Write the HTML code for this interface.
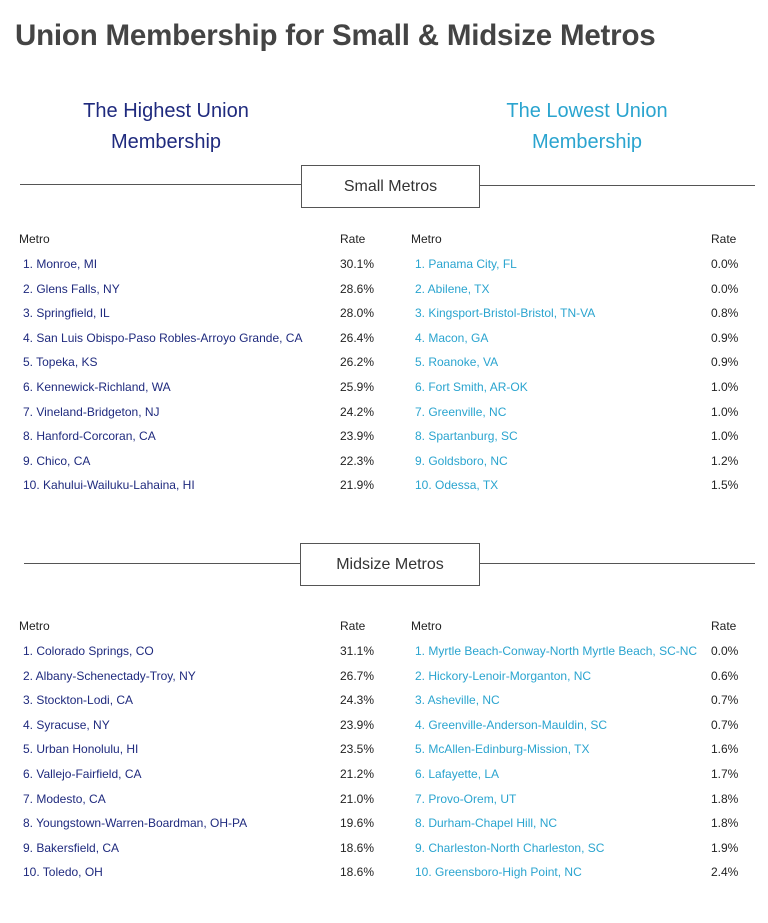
<!DOCTYPE html>
<html><head><meta charset="utf-8"><style>
body{margin:0;width:768px;height:923px;background:#fff;font-family:"Liberation Sans",Arial,sans-serif;position:relative;overflow:hidden}
.a{position:absolute;white-space:nowrap;line-height:16px;transform:translateY(-8px)}
h1{position:absolute;left:15px;top:19px;margin:0;font-size:29.5px;color:#444;font-weight:bold;letter-spacing:-0.2px}
.hd{position:absolute;font-size:20px;line-height:31px;text-align:center;width:300px;top:96px}
.ln{position:absolute;height:1px;background:#555}
.box{position:absolute;border:1px solid #555;box-sizing:border-box;text-align:center;font-size:16px;color:#333;background:#fff}
.h{font-size:12px;color:#222}
.n{font-size:12px;color:#1f2a7e}
.t{font-size:12px;color:#2aa4cf}
.r{font-size:12px;color:#222}
</style></head><body>
<h1>Union Membership for Small &amp; Midsize Metros</h1>
<div class="hd" style="left:16px;color:#1f2a7e">The Highest Union<br>Membership</div>
<div class="hd" style="left:437px;color:#2aa4cf">The Lowest Union<br>Membership</div>
<div class="ln" style="left:20px;width:282px;top:184px"></div>
<div class="ln" style="left:478px;width:277px;top:185px"></div>
<div class="box" style="left:301px;top:165px;width:179px;height:43px;line-height:41px">Small Metros</div>
<div class="ln" style="left:24px;width:278px;top:563px"></div>
<div class="ln" style="left:478px;width:277px;top:563px"></div>
<div class="box" style="left:300px;top:543px;width:180px;height:43px;line-height:41px">Midsize Metros</div>
<div id="c"></div>
<script>
function T(y0,L,R){var h='',s=24.6;
h+='<div class="a h" style="left:19px;top:'+y0+'px">Metro</div><div class="a h" style="left:340px;top:'+y0+'px">Rate</div>';
h+='<div class="a h" style="left:411px;top:'+y0+'px">Metro</div><div class="a h" style="left:711px;top:'+y0+'px">Rate</div>';
for(var i=0;i<10;i++){var y=y0+25+i*s;
h+='<div class="a n" style="left:23px;top:'+y+'px">'+(i+1)+'. '+L[i][0]+'</div><div class="a r" style="left:340px;top:'+y+'px">'+L[i][1]+'</div>';
h+='<div class="a t" style="left:415px;top:'+y+'px">'+(i+1)+'. '+R[i][0]+'</div><div class="a r" style="left:711px;top:'+y+'px">'+R[i][1]+'</div>';}
return h;}
document.getElementById('c').innerHTML=T(239,[["Monroe, MI","30.1%"],["Glens Falls, NY","28.6%"],["Springfield, IL","28.0%"],["San Luis Obispo-Paso Robles-Arroyo Grande, CA","26.4%"],["Topeka, KS","26.2%"],["Kennewick-Richland, WA","25.9%"],["Vineland-Bridgeton, NJ","24.2%"],["Hanford-Corcoran, CA","23.9%"],["Chico, CA","22.3%"],["Kahului-Wailuku-Lahaina, HI","21.9%"]],
[["Panama City, FL","0.0%"],["Abilene, TX","0.0%"],["Kingsport-Bristol-Bristol, TN-VA","0.8%"],["Macon, GA","0.9%"],["Roanoke, VA","0.9%"],["Fort Smith, AR-OK","1.0%"],["Greenville, NC","1.0%"],["Spartanburg, SC","1.0%"],["Goldsboro, NC","1.2%"],["Odessa, TX","1.5%"]])
+T(626,[["Colorado Springs, CO","31.1%"],["Albany-Schenectady-Troy, NY","26.7%"],["Stockton-Lodi, CA","24.3%"],["Syracuse, NY","23.9%"],["Urban Honolulu, HI","23.5%"],["Vallejo-Fairfield, CA","21.2%"],["Modesto, CA","21.0%"],["Youngstown-Warren-Boardman, OH-PA","19.6%"],["Bakersfield, CA","18.6%"],["Toledo, OH","18.6%"]],
[["Myrtle Beach-Conway-North Myrtle Beach, SC-NC","0.0%"],["Hickory-Lenoir-Morganton, NC","0.6%"],["Asheville, NC","0.7%"],["Greenville-Anderson-Mauldin, SC","0.7%"],["McAllen-Edinburg-Mission, TX","1.6%"],["Lafayette, LA","1.7%"],["Provo-Orem, UT","1.8%"],["Durham-Chapel Hill, NC","1.8%"],["Charleston-North Charleston, SC","1.9%"],["Greensboro-High Point, NC","2.4%"]]);
</script>
</body></html>
